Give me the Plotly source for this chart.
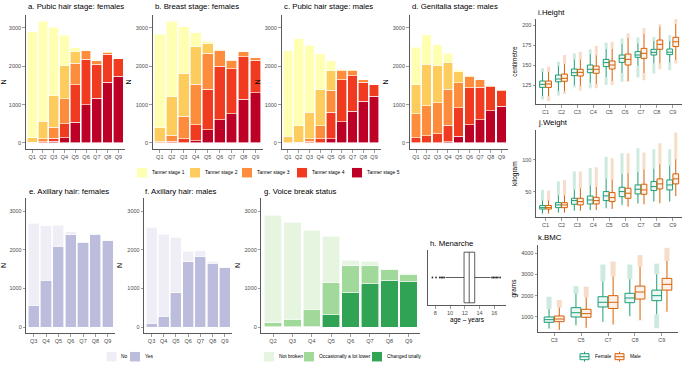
import plotly.graph_objects as go

W, H = 685, 369

# ---------------- data ----------------
Q_ALL = ['Q1', 'Q2', 'Q3', 'Q4', 'Q5', 'Q6', 'Q7', 'Q8', 'Q9']
Q_AX = ['Q3', 'Q4', 'Q5', 'Q6', 'Q7', 'Q8', 'Q9']
Q_VOICE = ['Q2', 'Q3', 'Q4', 'Q5', 'Q6', 'Q7', 'Q8', 'Q9']
C_ALL = ['C1', 'C2', 'C3', 'C4', 'C5', 'C6', 'C7', 'C8', 'C9']
C_BMC = ['C3', 'C5', 'C7', 'C8', 'C9']

TANNER_LABELS = ['Tanner stage 1', 'Tanner stage 2', 'Tanner stage 3', 'Tanner stage 4', 'Tanner stage 5']

# a. Pubic hair stage: females (stage 1..5)
pubic_f_s1 = [2770, 2615, 1790, 790, 105, 5, 0, 5, 0]
pubic_f_s2 = [115, 460, 820, 870, 300, 10, 15, 15, 5]
pubic_f_s3 = [15, 80, 290, 645, 565, 225, 85, 50, 10]
pubic_f_s4 = [0, 20, 80, 375, 980, 1190, 895, 720, 460]
pubic_f_s5 = [0, 5, 40, 130, 540, 1000, 1165, 1590, 1740]
# b. Breast stage: females
breast_f_s1 = [2440, 1965, 1220, 360, 45, 5, 5, 5, 10]
breast_f_s2 = [355, 1010, 1115, 980, 260, 25, 25, 15, 20]
breast_f_s3 = [40, 150, 580, 1050, 940, 420, 230, 130, 60]
breast_f_s4 = [5, 40, 105, 430, 1060, 1390, 1165, 1110, 850]
breast_f_s5 = [0, 5, 10, 50, 345, 610, 765, 1140, 1310]
# c. Pubic hair stage: males
pubic_m_s1 = [2230, 2270, 1745, 940, 260, 10, 5, 0, 5]
pubic_m_s2 = [165, 430, 690, 940, 515, 35, 20, 10, 10]
pubic_m_s3 = [5, 15, 70, 340, 575, 235, 130, 60, 10]
pubic_m_s4 = [0, 5, 40, 100, 685, 1100, 930, 505, 300]
pubic_m_s5 = [0, 0, 5, 10, 115, 550, 825, 1085, 1215]
# d. Genitalia stage: males
genit_m_s1 = [985, 760, 540, 240, 50, 5, 5, 0, 0]
genit_m_s2 = [750, 1085, 975, 705, 295, 25, 15, 5, 5]
genit_m_s3 = [635, 785, 800, 940, 650, 285, 195, 30, 25]
genit_m_s4 = [130, 185, 240, 420, 740, 975, 845, 615, 400]
genit_m_s5 = [0, 5, 5, 35, 175, 470, 610, 845, 960]

# e/f. Axillary hair
axill_f_yes = [570, 1215, 2090, 2395, 2195, 2405, 2240]
axill_f_no = [2120, 1405, 550, 65, 15, 15, 10]
axill_m_yes = [95, 285, 890, 1690, 1830, 1655, 1535]
axill_m_no = [2490, 2115, 1430, 270, 150, 45, 20]

# g. Voice break status
voice_changed = [5, 10, 25, 320, 895, 1125, 1215, 1180]
voice_occasional = [105, 190, 435, 830, 695, 480, 265, 175]
voice_not_broken = [2790, 2510, 2050, 1200, 140, 95, 30, 35]

# h. Menarche (age, years): box statistics and outliers
men_q1, men_median, men_q3 = 11.9, 12.6, 13.35
men_low, men_high = 9.4, 15.5
men_outliers = [7.6, 8.1, 8.6, 8.8, 9.0, 9.2, 15.7, 15.9, 16.1, 16.3, 16.5, 16.8]

# i. Height (cm) : q1, median, q3, lower whisker, upper whisker, min outlier, max outlier
height_f_q1 = [122, 129, 136.7, 140.4, 148, 153.3, 159.6, 162.5, 163]
height_f_med = [125.8, 132.5, 140.4, 144.6, 153, 158.3, 162.5, 165.8, 166]
height_f_q3 = [130, 137.5, 145, 150, 157, 162.5, 166.7, 169.6, 170]
height_f_lo = [111, 117, 125, 127, 135, 140, 149, 152, 153]
height_f_hi = [141, 149, 157, 164, 170, 176, 177, 180, 180]
height_f_min = [107, 112, 122, 121, 125, 129, 134.5, 139.5, 143.5]
height_f_max = [146, 154, 164.5, 169.5, 178, 183, 184.5, 185, 187.5]
height_m_q1 = [122, 129.6, 136.2, 139.6, 145, 150, 158.3, 169.6, 173]
height_m_med = [126.3, 133.3, 140.8, 144.6, 150, 157, 164.6, 175.8, 179]
height_m_q3 = [130, 138.7, 144.6, 148.7, 155, 163.7, 170.8, 181.2, 184.6]
height_m_lo = [111, 117, 124, 126, 130, 130, 140, 152, 156]
height_m_hi = [141, 151, 157, 162, 170, 184, 189, 198, 201]
height_m_min = [105, 113.7, 118, 120.8, 125, 129, 131, 144.6, 152]
height_m_max = [148, 162.5, 166.7, 173.7, 179, 189.6, 195.8, 201, 208]

# j. Weight (kg)
weight_f_q1 = [22.5, 24.7, 30, 30.5, 35.8, 42, 46.3, 51.6, 52.6]
weight_f_med = [24.7, 29, 35.8, 36.8, 43.2, 50, 53.7, 57.9, 60.5]
weight_f_q3 = [28, 32.6, 39.5, 43, 50, 56.8, 60.5, 65.8, 68.4]
weight_f_lo = [16, 17, 20, 21, 23.7, 29, 31.6, 34.2, 34.2]
weight_f_hi = [36, 44, 53, 60, 70, 78, 81, 86, 91]
weight_f_min = [14.5, 16.5, 19.5, 20.5, 23.5, 28.5, 31, 34, 34]
weight_f_max = [52.5, 65.8, 81.6, 87, 105, 110.5, 118.4, 116.8, 116.8]
weight_m_q1 = [22.5, 24.7, 29, 30.5, 34.2, 39.5, 45.8, 54.2, 62.1]
weight_m_med = [24.7, 29, 34.2, 35.8, 40.5, 47.4, 52.6, 62.1, 70]
weight_m_q3 = [28, 32.6, 39.5, 41, 48.4, 55.3, 61.6, 70, 77.9]
weight_m_lo = [16, 17, 20, 21, 22.6, 26.3, 30, 31.6, 43]
weight_m_hi = [36, 44, 55, 57, 69, 79, 85, 93, 101]
weight_m_min = [14.5, 16.5, 19.5, 20.5, 22.5, 26, 29.5, 31.5, 42.5]
weight_m_max = [51.5, 68.4, 81.6, 88.4, 102.6, 110.5, 111.6, 126.3, 143]

# k. BMC (grams)
bmc_f_q1 = [750, 1000, 1470, 1670, 1765]
bmc_f_med = [875, 1200, 1690, 1890, 2000]
bmc_f_q3 = [1000, 1437, 1950, 2110, 2260]
bmc_f_lo = [470, 625, 780, 1050, 1125]
bmc_f_hi = [1370, 2090, 2670, 2770, 3000]
bmc_f_min = [450, 600, 760, 1030, 470]
bmc_f_max = [1950, 2450, 3460, 3460, 3500]
bmc_m_q1 = [780, 985, 1400, 1840, 2260]
bmc_m_med = [906, 1156, 1690, 2170, 2530]
bmc_m_q3 = [1047, 1360, 2000, 2450, 2810]
bmc_m_lo = [400, 500, 660, 860, 1250]
bmc_m_hi = [1440, 1920, 2900, 3360, 3630]
bmc_m_min = [375, 480, 640, 840, 1230]
bmc_m_max = [1800, 2420, 3600, 3900, 4245]

# ---------------- style ----------------
FONT = 'Liberation Sans, Arial, sans-serif'
TANNER_COLORS = ['#ffffb2', '#fecc5c', '#fd8d3c', '#f03b20', '#bd0026']
AX_COLORS = ['#efedf5', '#bcbddc']
VOICE_COLORS = ['#e5f5e0', '#a1d99b', '#31a354']
F_COL, M_COL = '#1b9e77', '#d95f02'
F_FILL, M_FILL = 'rgba(27,158,119,0.08)', 'rgba(217,95,2,0.08)'
F_HALO, M_HALO = 'rgba(27,158,119,0.22)', 'rgba(217,95,2,0.22)'

fig = go.Figure()
layout = {}

AXIS = dict(showline=True, linecolor='#5a5a5a', linewidth=1, ticks='outside', ticklen=2.5,
            tickwidth=0.6, tickcolor='#5a5a5a', tickfont=dict(size=5.5, color='#4d4d4d', family=FONT),
            showgrid=False, zeroline=False, fixedrange=True)


def name(i, kind):
    return kind if i == 1 else f'{kind}{i}'


def add_axes(i, x0, x1, ytop, ybot, xr, yr, xextra=None, yextra=None):
    xa = dict(AXIS, domain=[x0 / W, x1 / W], anchor=name(i, 'y'), range=xr)
    ya = dict(AXIS, domain=[1 - ybot / H, 1 - ytop / H], anchor=name(i, 'x'), range=yr)
    if xextra:
        xa.update(xextra)
    if yextra:
        ya.update(yextra)
    layout[name(i, 'xaxis')] = xa
    layout[name(i, 'yaxis')] = ya


N_TITLE = dict(title=dict(text='N', font=dict(size=7, color='black', family=FONT), standoff=3),
               tickvals=[0, 1000, 2000, 3000])


def cat(n):
    return dict(type='category', range=[-0.6, n - 0.4])


# top row stacked bar panels
tanner_panels = [
    (1, 25.7, 124.8, [pubic_f_s1, pubic_f_s2, pubic_f_s3, pubic_f_s4, pubic_f_s5]),
    (2, 152.6, 262.7, [breast_f_s1, breast_f_s2, breast_f_s3, breast_f_s4, breast_f_s5]),
    (3, 281.5, 380.5, [pubic_m_s1, pubic_m_s2, pubic_m_s3, pubic_m_s4, pubic_m_s5]),
    (4, 409.6, 507.7, [genit_m_s1, genit_m_s2, genit_m_s3, genit_m_s4, genit_m_s5]),
]
for i, x0, x1, stages in tanner_panels:
    add_axes(i, x0, x1, 15, 149, None, [-159, 3339], cat(len(Q_ALL)), N_TITLE)
    for s in range(4, -1, -1):
        fig.add_trace(go.Bar(x=Q_ALL, y=stages[s], name=TANNER_LABELS[s],
                             marker=dict(color=TANNER_COLORS[s], line=dict(color='white', width=0.6)),
                             xaxis=name(i, 'x'), yaxis=name(i, 'y'), showlegend=False))

# axillary hair
for i, x0, x1, yes, no in [(5, 26.3, 115.1, axill_f_yes, axill_f_no), (6, 144.2, 232.1, axill_m_yes, axill_m_no)]:
    add_axes(i, x0, x1, 198, 333, None, [-155, 3340], cat(len(Q_AX)), N_TITLE)
    fig.add_trace(go.Bar(x=Q_AX, y=yes, name='Yes', marker=dict(color=AX_COLORS[1], line=dict(color='white', width=0.6)),
                         xaxis=name(i, 'x'), yaxis=name(i, 'y'), showlegend=False))
    fig.add_trace(go.Bar(x=Q_AX, y=no, name='No', marker=dict(color=AX_COLORS[0], line=dict(color='white', width=0.6)),
                         xaxis=name(i, 'x'), yaxis=name(i, 'y'), showlegend=False))

# voice break
add_axes(7, 261.4, 420.3, 198, 333, None, [-155, 3340], cat(len(Q_VOICE)), N_TITLE)
for vals, nm, col in [(voice_changed, 'Changed totally', VOICE_COLORS[2]),
                      (voice_occasional, 'Occasionally a lot lower', VOICE_COLORS[1]),
                      (voice_not_broken, 'Not broken', VOICE_COLORS[0])]:
    fig.add_trace(go.Bar(x=Q_VOICE, y=vals, name=nm, marker=dict(color=col, line=dict(color='white', width=0.6)),
                         xaxis='x7', yaxis='y7', showlegend=False))

# menarche
add_axes(8, 428, 506, 250, 305, [7.0, 17.6], [-0.5, 0.5],
         dict(tickvals=[8, 10, 12, 14, 16],
              title=dict(text='age \u2013 years', font=dict(size=6.5, color='black', family=FONT), standoff=2)),
         dict(showticklabels=False, ticks=''))
fig.add_trace(go.Box(y=[0], q1=[men_q1], median=[men_median], q3=[men_q3], lowerfence=[men_low],
                     upperfence=[men_high], orientation='h', width=0.92, whiskerwidth=0,
                     fillcolor='white', line=dict(color='#333', width=0.8), boxpoints=False,
                     xaxis='x8', yaxis='y8', showlegend=False))
fig.add_trace(go.Scatter(x=men_outliers, y=[0] * len(men_outliers), mode='markers',
                         marker=dict(size=1.8, color='#333'), xaxis='x8', yaxis='y8', showlegend=False))


def box_series(i, cats, q1, med, q3, lo, hi, mn, mx, col, fill, halo, offset, halo_w):
    pos = [k + 1 + offset for k in range(len(cats))]
    hx, hy = [], []
    for p, a, b, c, d in zip(pos, hi, mx, lo, mn):
        hx += [p, p, None, p, p, None]
        hy += [a, b, None, c, d, None]
    fig.add_trace(go.Scatter(x=hx, y=hy, mode='lines', line=dict(color=halo, width=halo_w),
                             xaxis=name(i, 'x'), yaxis=name(i, 'y'), showlegend=False, hoverinfo='skip'))
    fig.add_trace(go.Box(x=pos, q1=q1, median=med, q3=q3, lowerfence=lo, upperfence=hi, width=0.36,
                         whiskerwidth=0, fillcolor=fill, line=dict(color=col, width=1), boxpoints=False,
                         xaxis=name(i, 'x'), yaxis=name(i, 'y'), showlegend=False))


def ytitle(t):
    return dict(text=t, font=dict(size=6.5, color='black', family=FONT), standoff=3)


add_axes(9, 536, 682.3, 19, 104, [0.4, 9.6], [101.25, 207.5],
         dict(tickvals=list(range(1, 10)), ticktext=C_ALL),
         dict(tickvals=[125, 150, 175, 200], title=ytitle('centimetre')))
box_series(9, C_ALL, height_f_q1, height_f_med, height_f_q3, height_f_lo, height_f_hi, height_f_min, height_f_max,
           F_COL, F_FILL, F_HALO, -0.19, 3)
box_series(9, C_ALL, height_m_q1, height_m_med, height_m_q3, height_m_lo, height_m_hi, height_m_min, height_m_max,
           M_COL, M_FILL, M_HALO, 0.19, 3)

add_axes(10, 536, 682.3, 130, 217.3, [0.4, 9.6], [9.5, 147],
         dict(tickvals=list(range(1, 10)), ticktext=C_ALL),
         dict(tickvals=[50, 100], title=ytitle('kilogram')))
box_series(10, C_ALL, weight_f_q1, weight_f_med, weight_f_q3, weight_f_lo, weight_f_hi, weight_f_min, weight_f_max,
           F_COL, F_FILL, F_HALO, -0.19, 3)
box_series(10, C_ALL, weight_m_q1, weight_m_med, weight_m_q3, weight_m_lo, weight_m_hi, weight_m_min, weight_m_max,
           M_COL, M_FILL, M_HALO, 0.19, 3)

add_axes(11, 538, 678, 245, 332, [0.4, 5.6], [296, 4375],
         dict(tickvals=list(range(1, 6)), ticktext=C_BMC),
         dict(tickvals=[1000, 2000, 3000, 4000], title=ytitle('grams')))
box_series(11, C_BMC, bmc_f_q1, bmc_f_med, bmc_f_q3, bmc_f_lo, bmc_f_hi, bmc_f_min, bmc_f_max,
           F_COL, F_FILL, F_HALO, -0.19, 5)
box_series(11, C_BMC, bmc_m_q1, bmc_m_med, bmc_m_q3, bmc_m_lo, bmc_m_hi, bmc_m_min, bmc_m_max,
           M_COL, M_FILL, M_HALO, 0.19, 5)

# ---------------- titles ----------------
annotations = []
TITLES = [
    ('a. Pubic hair stage: females', 26, 7), ('b. Breast stage: females', 153, 7),
    ('c. Pubic hair stage: males', 282, 7), ('d. Genitalia stage: males', 410, 7),
    ('e. Axillary hair: females', 27, 191), ('f. Axillary hair: males', 143, 191),
    ('g. Voice break status', 262, 191), ('h. Menarche', 428, 243),
    ('i.Height', 536, 13), ('j.Weight', 536, 123), ('k.BMC', 536, 237),
]
for t, x, y in TITLES:
    annotations.append(dict(text=t, x=x / W, y=1 - y / H, xref='paper', yref='paper', xanchor='left',
                            yanchor='middle', showarrow=False, font=dict(size=7.8, color='black', family=FONT)))

# ---------------- legends (drawn) ----------------
shapes = []
LEG_FONT = dict(size=4.9, color='black', family=FONT)


def legend_item(x, yc, col, label, w=10, h=9.5):
    shapes.append(dict(type='rect', xref='paper', yref='paper', x0=x / W, x1=(x + w) / W,
                       y0=1 - (yc + h / 2) / H, y1=1 - (yc - h / 2) / H, fillcolor=col, line=dict(width=0)))
    annotations.append(dict(text=label, x=(x + w + 3) / W, y=1 - yc / H, xref='paper', yref='paper',
                            xanchor='left', yanchor='middle', showarrow=False, font=LEG_FONT))


for x, col, lab in zip([137, 190, 242, 297, 352], TANNER_COLORS, TANNER_LABELS):
    legend_item(x, 172.7, col, lab)
for x, col, lab in zip([106.5, 130], AX_COLORS, ['No', 'Yes']):
    legend_item(x, 356.7, col, lab)
for x, col, lab in zip([264, 304, 372], VOICE_COLORS, ['Not broken', 'Occasionally a lot lower', 'Changed totally']):
    legend_item(x, 356.7, col, lab)


def box_key(x, yc, col, fill, label):
    shapes.append(dict(type='rect', xref='paper', yref='paper', x0=x / W, x1=(x + 9) / W,
                       y0=1 - (yc + 3) / H, y1=1 - (yc - 3) / H, fillcolor=fill, line=dict(color=col, width=1)))
    shapes.append(dict(type='line', xref='paper', yref='paper', x0=x / W, x1=(x + 9) / W,
                       y0=1 - yc / H, y1=1 - yc / H, line=dict(color=col, width=1)))
    for a, b in [(yc - 5, yc - 3), (yc + 3, yc + 5)]:
        shapes.append(dict(type='line', xref='paper', yref='paper', x0=(x + 4.5) / W, x1=(x + 4.5) / W,
                           y0=1 - a / H, y1=1 - b / H, line=dict(color=col, width=1)))
    annotations.append(dict(text=label, x=(x + 12.5) / W, y=1 - yc / H, xref='paper', yref='paper',
                            xanchor='left', yanchor='middle', showarrow=False, font=LEG_FONT))


box_key(580, 356.7, F_COL, F_FILL, 'Female')
box_key(615, 356.7, M_COL, M_FILL, 'Male')

fig.update_layout(
    width=W, height=H, margin=dict(l=0, r=0, t=0, b=0),
    paper_bgcolor='white', plot_bgcolor='white',
    barmode='stack', bargap=0.1, boxmode='overlay',
    font=dict(family=FONT, color='black'),
    showlegend=False, annotations=annotations, shapes=shapes,
    **layout,
)

fig.write_html('out.html', config={'displayModeBar': False, 'staticPlot': True},
               post_script="document.body.style.margin='0';document.body.style.overflow='hidden';")
